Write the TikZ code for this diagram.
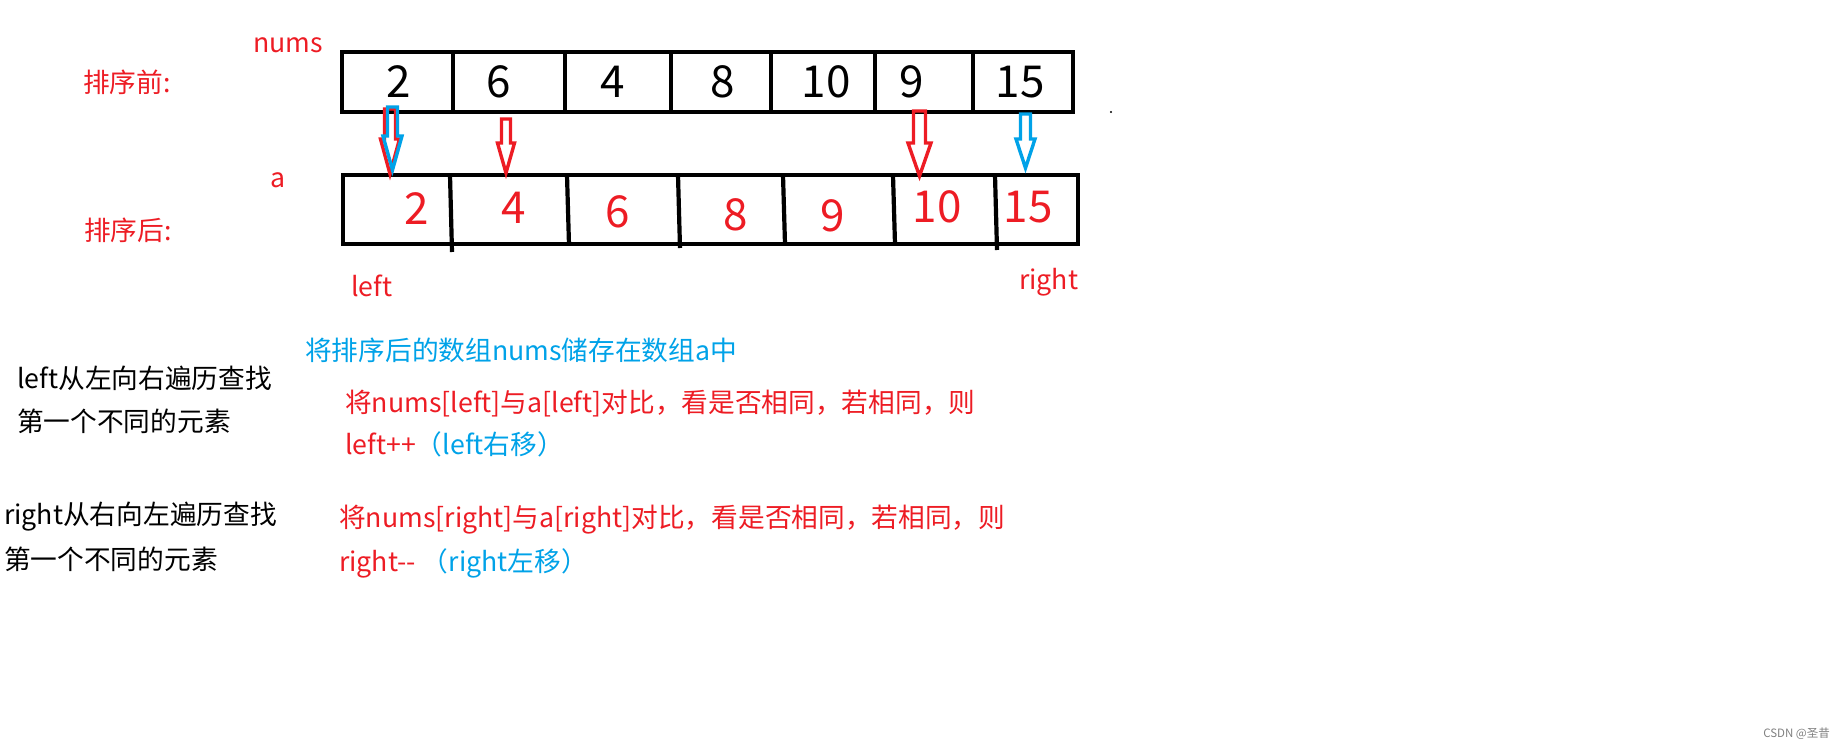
\documentclass[tikz,border=0pt]{standalone}
\usepackage{fontspec}
\setmainfont{Noto Sans CJK SC}
\definecolor{pRed}{HTML}{ED1C24}
\definecolor{pBlue}{HTML}{00A2E8}
% hollow arrow: colour, x, top, base of head, tip, half shaft, half head
\newcommand{\hollowarrow}[7]{%
\draw[#1,line width=3.4pt,line join=miter](#2-#6,#3)--(#2+#6,#3)--(#2+#6,#4)--(#2+#7,#4)--(#2,#5)--(#2-#7,#4)--(#2-#6,#4)--cycle;}
\begin{document}
\begin{tikzpicture}[x=1pt,y=-1pt,
  txt/.style={inner sep=0pt,anchor=base west,font=\fontsize{26.7}{32}\selectfont},
  digit/.style={inner sep=0pt,font=\fontsize{44}{50}\selectfont}]
\useasboundingbox(0,0)rectangle(1845,749);
%arrays
\draw[line width=4.2pt](342,52)rectangle(1073,112);
\foreach \x in {453,565,671,771,875,973}
  \draw[line width=4.2pt](\x,52)--(\x,114);
\draw[line width=4.2pt](343,175)rectangle(1078,244);
\foreach \x/\y in {450/252,567/245,678/248,783/244,893/244,995/250}
  \draw[line width=4.2pt](\x,175)--(\x+2,\y);
\fill(1111,112)circle(1.2);
%numbers
\foreach \v/\x [count=\i] in {2/399,6/499,4/613,8/723,10/826,9/912,15/1020}
  \node[digit](n\i)at(\x,82){\v};
\foreach \v/\x/\y [count=\i] in {2/417/209,4/514/208,6/618/212,8/736/215,9/833/216,10/937/207,15/1028/207}
  \node[digit,pRed](a\i)at(\x,\y){\v};
%arrows
\hollowarrow{pRed}{390}{109}{139}{174}{5.5}{9.5}
\hollowarrow{pBlue}{392.5}{107}{136}{170}{5}{9.5}
\hollowarrow{pRed}{506}{119}{143}{173}{4.5}{8.5}
\hollowarrow{pRed}{919.5}{111}{143}{176}{6}{11.5}
\hollowarrow{pBlue}{1025.5}{114}{139}{168}{5}{9.5}
%labels
\node[txt,pRed](numsLbl)at(253,53){nums};
\node[txt,pRed](before)at(83,93){排序前:};
\node[txt,pRed](aLbl)at(270,187){a};
\node[txt,pRed](after)at(84,240){排序后:};
\node[txt,pRed](leftLbl)at(351,296){left};
\node[txt,pRed](rightLbl)at(1019,289){right};
%notes
\node[txt,pBlue](note)at(305,360){将排序后的数组nums储存在数组a中};
\node[txt](leftA)at(17,388){left从左向右遍历查找};
\node[txt](leftB)at(17,431){第一个不同的元素};
\node[txt,pRed](cmpL)at(345,412){将nums[left]与a[left]对比，看是否相同，若相同，则};
\node[txt,pRed](stepL)at(345,454){left++\textcolor{pBlue}{（left右移）}};
\node[txt](rightA)at(4,524){right从右向左遍历查找};
\node[txt](rightB)at(4,569){第一个不同的元素};
\node[txt,pRed](cmpR)at(339,527){将nums[right]与a[right]对比，看是否相同，若相同，则};
\node[txt,pRed](stepR)at(339,571){right-{}-~\textcolor{pBlue}{（right左移）}};
\node[inner sep=0pt,anchor=base east,gray,font=\fontsize{11.5}{13}\selectfont](mark)at(1830,737){CSDN @圣昔};
\end{tikzpicture}
\end{document}
